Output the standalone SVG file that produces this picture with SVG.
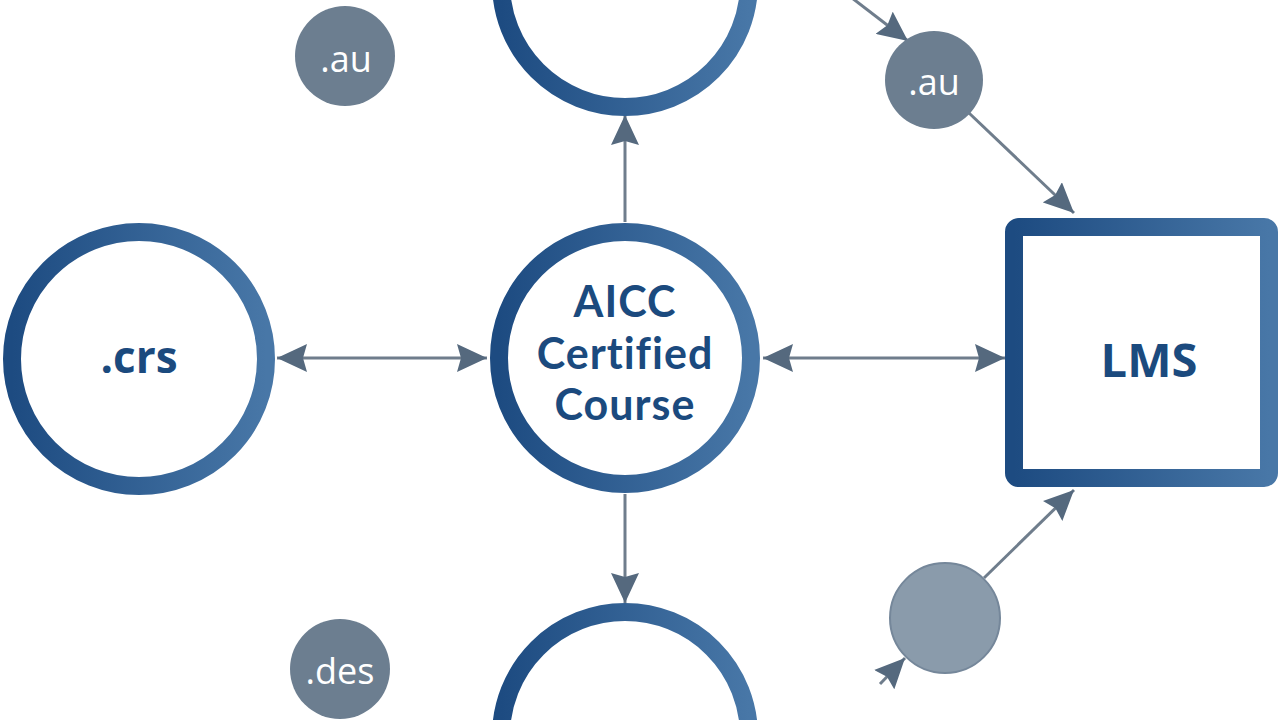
<svg xmlns="http://www.w3.org/2000/svg" width="1280" height="720" viewBox="0 0 1280 720">
<defs>
<linearGradient id="ring" x1="0" y1="0" x2="1" y2="0">
<stop offset="0" stop-color="#1d4b81"/>
<stop offset="1" stop-color="#4877a7"/>
</linearGradient>
<marker id="ah" viewBox="0 0 30 28" refX="30" refY="14" markerWidth="30" markerHeight="28" markerUnits="userSpaceOnUse" orient="auto-start-reverse">
<path d="M0,0 L30,14 L0,28 L4,14 Z" fill="#55697e"/>
</marker>
<style>
.ring{fill:#fff;stroke:url(#ring);stroke-width:18}
.lbl{font-family:"Open Sans","Noto Sans","Liberation Sans",sans-serif;font-weight:700;fill:#1b4a7e;text-anchor:middle}
.ctr{font-family:Lato,"Liberation Sans",sans-serif;font-weight:700;fill:#1b4a7e;text-anchor:middle;font-variant-ligatures:none;letter-spacing:1px}
.gc{fill:#6c7e90}
.gt{font-family:"Open Sans","Noto Sans","Liberation Sans",sans-serif;font-size:36px;font-weight:500;fill:#fff;text-anchor:middle}
.cn{stroke:#6f7d8c;stroke-width:3;fill:none}
</style>
</defs>
<rect width="1280" height="720" fill="#ffffff"/>
<g id="connectors">
<line class="cn" x1="625" y1="222" x2="625" y2="115" marker-end="url(#ah)"/>
<line class="cn" x1="625" y1="494" x2="625" y2="603" marker-end="url(#ah)"/>
<line class="cn" x1="277" y1="358" x2="487" y2="358" marker-start="url(#ah)" marker-end="url(#ah)"/>
<line class="cn" x1="763" y1="358" x2="1005" y2="358" marker-start="url(#ah)" marker-end="url(#ah)"/>
<line class="cn" x1="852" y1="-2" x2="908" y2="41" marker-end="url(#ah)"/>
<line class="cn" x1="969" y1="113" x2="1074" y2="213" marker-end="url(#ah)"/>
<line class="cn" x1="984" y1="578" x2="1074" y2="490" marker-end="url(#ah)"/>
<line class="cn" x1="880" y1="684" x2="905" y2="658" marker-end="url(#ah)"/>
</g>
<g id="node-top"><circle class="ring" cx="625" cy="-17" r="124"/></g>
<g id="node-bottom"><circle class="ring" cx="625" cy="736" r="124"/></g>
<g id="node-center">
<circle class="ring" cx="625" cy="358" r="126"/>
<text class="ctr" font-size="43"><tspan x="625" y="317">AICC</tspan><tspan x="625" y="369">Certified</tspan><tspan x="625" y="420">Course</tspan></text>
</g>
<g id="node-crs">
<circle class="ring" cx="139" cy="359" r="127"/>
<text class="lbl" x="139" y="373" font-size="44">.crs</text>
</g>
<g id="node-lms">
<rect x="1014" y="227" width="255" height="251" rx="5" fill="#fff" stroke="url(#ring)" stroke-width="18"/>
<text class="lbl" x="1149" y="377" font-size="47">LMS</text>
</g>
<g id="node-au1"><circle class="gc" cx="345" cy="56" r="50"/><text class="gt" x="346" y="72">.au</text></g>
<g id="node-au2"><circle class="gc" cx="934" cy="80" r="49"/><text class="gt" x="934" y="95">.au</text></g>
<g id="node-des"><circle class="gc" cx="340" cy="669" r="50"/><text class="gt" x="340" y="684" font-size="37">.des</text></g>
<g id="node-gray"><circle cx="945" cy="618" r="55" fill="#8a9bab" stroke="#75879a" stroke-width="2"/></g>
</svg>
